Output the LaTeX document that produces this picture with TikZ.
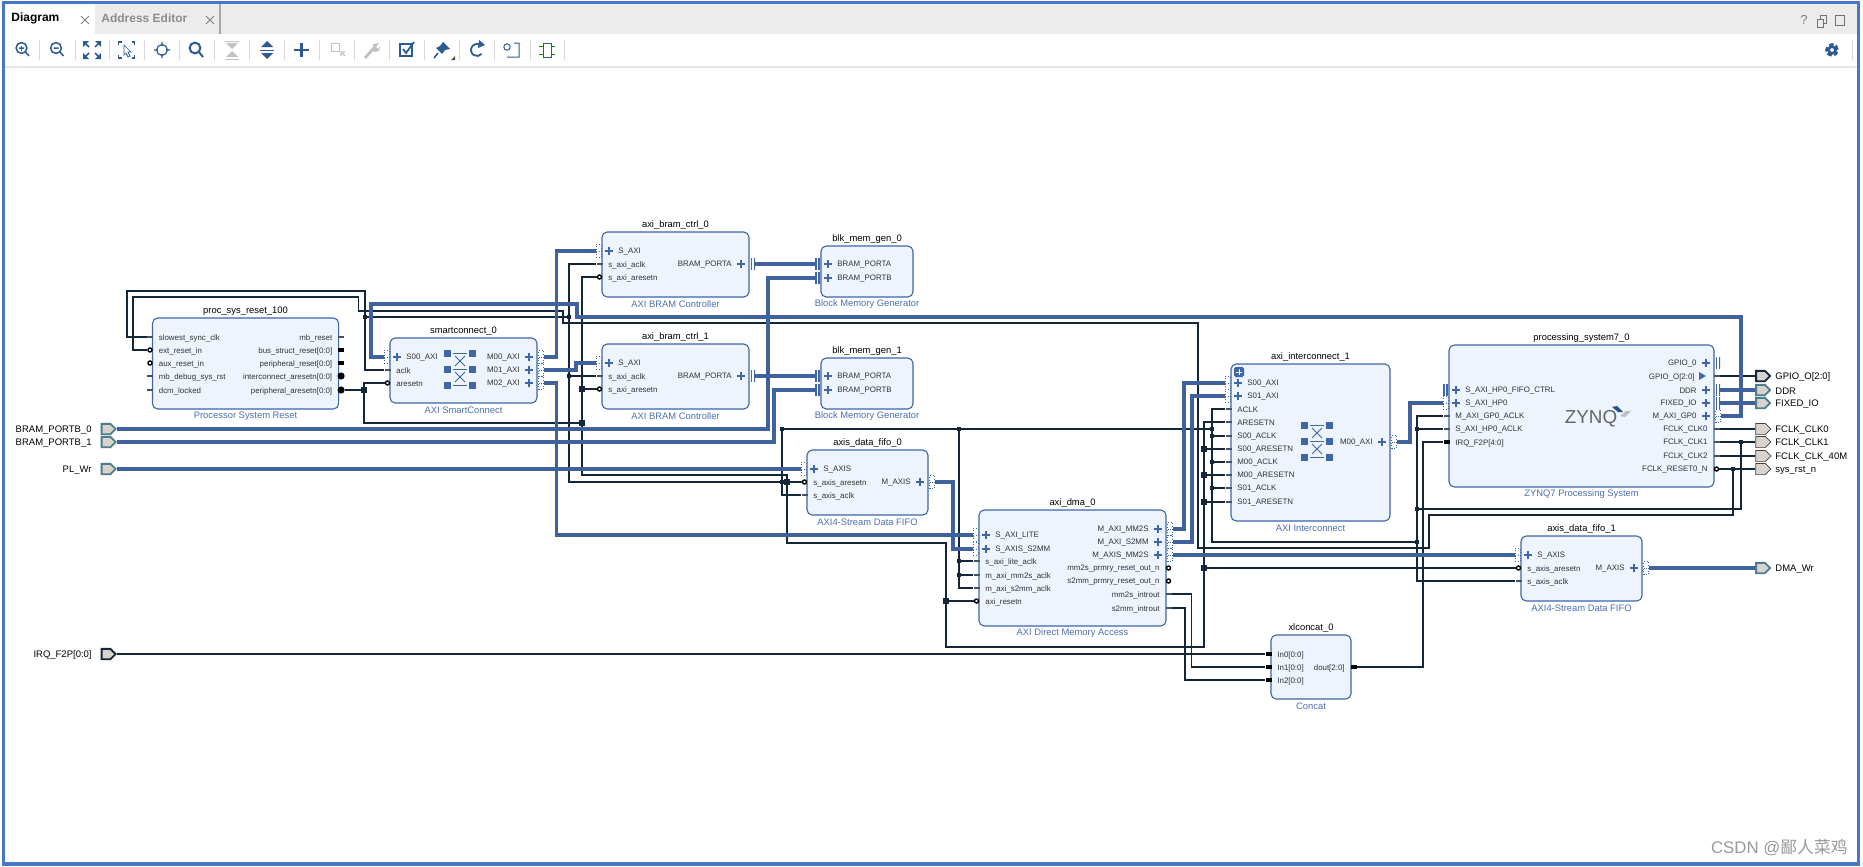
\documentclass[tikz,border=0pt]{standalone}
\usepackage{fontspec}
\setmainfont{Liberation Sans}
\newfontfamily\cjk{Noto Sans CJK SC}
\usetikzlibrary{shapes.symbols}

\definecolor{frameblue}{HTML}{4678C8}
\definecolor{tabgrey}{HTML}{ECECEC}
\definecolor{toolblue}{HTML}{2B5A94}
\definecolor{toolgrey}{HTML}{C2C2C2}
\definecolor{ipfill}{HTML}{EDF4FD}
\definecolor{ipline}{HTML}{3F66A8}
\definecolor{ipfoot}{HTML}{4C70B0}
\definecolor{busblue}{HTML}{3F629F}
\definecolor{netdark}{HTML}{14273A}
\definecolor{netgrey}{HTML}{85909A}
\definecolor{portfill}{HTML}{DAD3CD}
\definecolor{portteal}{HTML}{4A7E8C}

\tikzset{
	ipbox/.style={draw=ipline,fill=ipfill,line width=.55pt,rounded corners=2.6pt,inner sep=0pt,outer sep=0pt},
	iptitle/.style={inner sep=0pt,font=\fontsize{4.7}{5}\selectfont},
	ipfootl/.style={inner sep=0pt,text=ipfoot,font=\fontsize{4.7}{5}\selectfont},
	pinl/.style={anchor=west,inner sep=0pt,text=black!80,font=\fontsize{3.95}{4}\selectfont},
	pinr/.style={anchor=east,inner sep=0pt,text=black!80,font=\fontsize{3.95}{4}\selectfont},
	pthin/.style={fill=netdark!80,inner sep=0pt,minimum width=3pt,minimum height=.8pt},
	pbar/.style={fill=black,inner sep=0pt,minimum width=3pt,minimum height=2pt},
	plow/.style={circle,draw=black,fill=white,line width=.7pt,inner sep=0pt,minimum size=2pt},
	pdot/.style={circle,fill=black,inner sep=0pt,minimum size=3.6pt},
	ifdots/.style={draw=ipline,densely dotted,line width=.35pt,inner sep=0pt,minimum width=2.4pt,minimum height=6.5pt,
		path picture={\draw[ipline,densely dotted,line width=.35pt] (path picture bounding box.west) -- (path picture bounding box.east);}},
	ifbars/.style={inner sep=0pt,minimum width=2pt,minimum height=6pt,
		path picture={\draw[ipline,line width=1pt] (path picture bounding box.north west) -- (path picture bounding box.south west)
			(path picture bounding box.north east) -- (path picture bounding box.south east);}},
	ifbarsb/.style={inner sep=0pt,minimum width=2.5pt,minimum height=6pt,
		path picture={\draw[ipline,line width=1.8pt] (path picture bounding box.north west) -- (path picture bounding box.south west)
			(path picture bounding box.north east) -- (path picture bounding box.south east);}},
	plusmark/.style={draw=ipline,line width=1.05pt},
	busnet/.style={draw=busblue,line width=1.6pt},
	clknet/.style={draw=netdark,line width=.6pt},
	rstnet/.style={draw=netgrey,line width=1.4pt,postaction={draw=netdark,line width=.7pt}},
	jthin/.style={fill=netdark,inner sep=0pt,minimum size=1.7pt},
	jthick/.style={fill=netdark,inner sep=0pt,minimum size=2.7pt},
	extbus/.style={signal,signal to=east,draw=portteal,fill=portfill,line width=.95pt,inner sep=0pt,minimum width=7pt,minimum height=5.2pt},
	extnet/.style={signal,signal to=east,draw=netdark,fill=portfill,line width=.95pt,inner sep=0pt,minimum width=7pt,minimum height=5.2pt},
	extclk/.style={signal,signal to=east,draw=black!75,fill=portfill,line width=.35pt,inner sep=0pt,minimum width=7.5pt,minimum height=5.6pt},
	extl/.style={anchor=east,inner sep=0pt,font=\fontsize{4.75}{5}\selectfont},
	extr/.style={anchor=west,inner sep=0pt,font=\fontsize{4.75}{5}\selectfont},
	tooll/.style={draw=toolblue,line width=.75pt},
	xcross/.pic={
		\foreach \sx in {-12.5,12.5} \foreach \sy in {-16,0,16}
			\fill[ipline] (\sx-3.5,\sy-3.5) rectangle (\sx+3.5,\sy+3.5);
		\foreach \sy in {-16,0,16} \draw[ipline,line width=.45pt] (-7,\sy) -- (7,\sy);
		\draw[ipline,line width=.45pt] (-5,-13) -- (5,-3) (-5,-3) -- (5,-13) (-5,3) -- (5,13) (-5,13) -- (5,3);
	}
}

% pins of a block: name/y/text/kind
\newcommand{\pinsL}[2]{\foreach \nm/\yy/\txt/\kind in {#2}{
	\node[\kind] (\nm) at (#1-2.5,\yy) {};
	\node[pinl] (\nm t) at (#1+6,\yy+1) {\txt};}}
\newcommand{\pinsR}[2]{\foreach \nm/\yy/\txt/\kind in {#2}{
	\node[\kind] (\nm) at (#1+2.5,\yy) {};
	\node[pinr] (\nm t) at (#1-6,\yy+1) {\txt};}}
\newcommand{\busL}[2]{\foreach \nm/\yy/\txt/\kind in {#2}{
	\node[\kind] (\nm) at (#1-3.5,\yy) {};
	\draw[plusmark] (#1+3,\yy) -- (#1+11,\yy) (#1+7,\yy-4) -- (#1+7,\yy+4);
	\node[pinl] (\nm t) at (#1+16,\yy+1) {\txt};}}
\newcommand{\busR}[2]{\foreach \nm/\yy/\txt/\kind in {#2}{
	\node[\kind] (\nm) at (#1+4,\yy) {};
	\draw[plusmark] (#1-12,\yy) -- (#1-4,\yy) (#1-8,\yy-4) -- (#1-8,\yy+4);
	\node[pinr] (\nm t) at (#1-17,\yy+1) {\txt};}}

\begin{document}
\begin{tikzpicture}[x=.5pt,y=-.5pt]
	\useasboundingbox (0,0) rectangle (1863,867);
	\fill[white] (0,0) rectangle (1863,867);

	% Tabs
	\fill[tabgrey] (5,4) rectangle (1857,34);
	\fill[white] (5,4) rectangle (95,34);
	\draw[black!35,line width=1pt] (220,4) -- (220,34);
	\fill[black!10] (5,66) rectangle (1857,68);
	\node[inner sep=0pt,anchor=west,font=\bfseries\fontsize{6}{6}\selectfont] (tabdiag) at (11,18) {Diagram};
	\node[inner sep=0pt,anchor=west,text=black!45,font=\bfseries\fontsize{6}{6}\selectfont] (tabaddr) at (101,18) {Address Editor};
	\foreach \ix in {85,210}
		\draw[black!50,line width=.5pt] (\ix-4,16) -- (\ix+4,24) (\ix-4,24) -- (\ix+4,16);
	\node[inner sep=0pt,text=black!50,font=\fontsize{6.5}{7}\selectfont] (tabhelp) at (1804,20) {?};
	\draw[black!55,line width=.4pt] (1817,19) rectangle (1823,27) (1820,19) -- (1820,15) -- (1826,15) -- (1826,23) -- (1823,23);
	\draw[black!55,line width=.4pt] (1835,15) rectangle (1844,25);

	% Toolbar
	\foreach \sx in {39.5,75,109.5,144,179,214,249,284.5,319,354.5,389,424,459,494,530,564,1852}
		\draw[black!15,line width=.4pt] (\sx,40) -- (\sx,60);
	\foreach \ix in {21.5,56}
		\draw[tooll] (\ix,48) circle (2.7pt) (\ix+4,52) -- (\ix+7.5,56) (\ix-2.5,48) -- (\ix+2.5,48);
	\draw[tooll] (21.5,45.5) -- (21.5,50.5);
	\foreach \sx/\sy in {-1/-1,1/-1,-1/1,1/1}{
		\fill[toolblue] (92+\sx*9,50+\sy*9) -- (92+\sx*3,50+\sy*9) -- (92+\sx*9,50+\sy*3) -- cycle;
		\draw[tooll] (92+\sx*7,50+\sy*7) -- (92+\sx*3,50+\sy*3);
		\draw[tooll,line width=.6pt] (126.5+\sx*5,50+\sy*8) -- (126.5+\sx*8,50+\sy*8) -- (126.5+\sx*8,50+\sy*5);
	}
	\draw[toolblue,fill=white,line width=.35pt] (124,45) -- (131,52) -- (128,52) -- (130,56) -- (128,57) -- (126,53) -- (124,55) -- cycle;
	\draw[tooll,line width=.6pt] (162,50) circle (2.7pt) (162,42) -- (162,46) (162,54) -- (162,58) (154,50) -- (158,50) (166,50) -- (170,50);
	\draw[tooll,line width=1pt] (195,48) circle (2.7pt) (199,52) -- (203,57);
	\fill[toolgrey] (226,43) -- (238,43) -- (232,49) -- cycle (226,57) -- (238,57) -- (232,51) -- cycle;
	\draw[toolgrey,line width=.5pt] (225,41) -- (239,41) (225,59) -- (239,59);
	\fill[toolblue] (261,47) -- (273,47) -- (267,41) -- cycle (261,53) -- (273,53) -- (267,59) -- cycle;
	\draw[tooll,line width=.5pt] (260,50) -- (274,50);
	\draw[tooll,line width=1.3pt] (294,50) -- (309,50) (301.5,43) -- (301.5,57);
	\draw[toolgrey,line width=.4pt] (331,43) rectangle (339,51);
	\draw[toolgrey,line width=.6pt] (341,52) -- (345,56) (341,52) -- (345,52) (341,52) -- (341,56);
	\draw[toolgrey,line width=1.5pt] (365,58) -- (374,48);
	\fill[toolgrey] (373,44) -- (379,43) -- (376,47) -- (378,49) -- (380,46) -- (379,51) -- (374,52) -- cycle;
	\draw[tooll] (400,44) rectangle (412,56);
	\draw[tooll,line width=.9pt] (403,49) -- (406,53) -- (414,42);
	\fill[toolblue] (443,42) -- (450,49) -- (445,50) -- (442,54) -- (436,48) -- (440,46) -- cycle;
	\draw[tooll,line width=.8pt] (438,53) -- (434,58);
	\fill[black!70] (451,60) -- (455,60) -- (455,56) -- cycle;
	\draw[tooll,line width=.9pt] (480,44.8) arc (60:320:3pt);
	\fill[toolblue] (479,40) -- (485,45) -- (478,48) -- cycle;
	\draw[tooll,line width=.5pt] (507,47) circle (1.6pt) (507,57) -- (519,57) -- (519,43) -- (514,43);
	\draw[tooll,line width=.4pt] (543,43) rectangle (551,57);
	\draw[green!60!black,line width=.5pt] (539,46) -- (543,46) (539,54) -- (543,54) (551,46) -- (555,46) (551,54) -- (555,54);
	\draw[toolblue,line width=2pt,densely dotted] (1832,50) circle (2.4pt);
	\fill[toolblue,even odd rule] (1832,50) circle (2.4pt) (1832,50) circle (1pt);

	% Blocos
	\foreach \nm/\xa/\ya/\xb/\yb/\ttl/\ftr in {
		proc/152.5/318/338.6/409/proc\_sys\_reset\_100/Processor System Reset,
		sc/390/338/537/403/smartconnect\_0/AXI SmartConnect,
		bc0/602/232/749/297/axi\_bram\_ctrl\_0/AXI BRAM Controller,
		bc1/602/344/749/409/axi\_bram\_ctrl\_1/AXI BRAM Controller,
		bm0/821/246/913/297/blk\_mem\_gen\_0/Block Memory Generator,
		bm1/821/358/913/409/blk\_mem\_gen\_1/Block Memory Generator,
		ff0/807/450/928/515/axis\_data\_fifo\_0/AXI4-Stream Data FIFO,
		dma/979/510/1166/626/axi\_dma\_0/AXI Direct Memory Access,
		ic/1231/364/1390/521/axi\_interconnect\_1/AXI Interconnect,
		ps/1449/345/1714/487/processing\_system7\_0/ZYNQ7 Processing System,
		ff1/1521/536/1642/601/axis\_data\_fifo\_1/AXI4-Stream Data FIFO,
		xl/1271/635/1351/699/xlconcat\_0/Concat}{
		\node[ipbox,minimum width={(\xb-\xa)*.5pt},minimum height={(\yb-\ya)*.5pt}] (\nm) at ({(\xa+\xb)/2},{(\ya+\yb)/2}) {};
		\node[iptitle] (\nm t) at ({(\xa+\xb)/2},\ya-7) {\ttl};
		\node[ipfootl] (\nm f) at ({(\xa+\xb)/2},\yb+7) {\ftr};
	}

	% Pinos
	\pinsL{152.5}{rclk/337/slowest\_sync\_clk/pthin,rext/350/ext\_reset\_in/plow,raux/363/aux\_reset\_in/plow,
		rdbg/376/mb\_debug\_sys\_rst/pthin,rdcm/390/dcm\_locked/pthin}
	\pinsR{338.6}{rmb/337/mb\_reset/pthin,rbus/350/bus\_struct\_reset[0:0]/pbar,rper/363/peripheral\_reset[0:0]/pbar,
		ric/376/interconnect\_aresetn[0:0]/pdot,rpa/390/peripheral\_aresetn[0:0]/pdot}
	\busL{390}{scs/357/S00\_AXI/ifdots}
	\pinsL{390}{scclk/370/aclk/pthin,scrst/383/aresetn/plow}
	\busR{537}{scm0/357/M00\_AXI/ifdots,scm1/370/M01\_AXI/ifdots,scm2/383/M02\_AXI/ifdots}
	\busL{602}{bc0s/251/S\_AXI/ifdots}
	\pinsL{602}{bc0clk/264/s\_axi\_aclk/pthin,bc0rst/277/s\_axi\_aresetn/plow}
	\busR{749}{bc0a/264/BRAM\_PORTA/ifbars}
	\busL{602}{bc1s/363/S\_AXI/ifdots}
	\pinsL{602}{bc1clk/376/s\_axi\_aclk/pthin,bc1rst/389/s\_axi\_aresetn/plow}
	\busR{749}{bc1a/376/BRAM\_PORTA/ifbars}
	\busL{821}{bm0a/264/BRAM\_PORTA/ifbarsb,bm0b/278/BRAM\_PORTB/ifbarsb}
	\busL{821}{bm1a/376/BRAM\_PORTA/ifbarsb,bm1b/390/BRAM\_PORTB/ifbarsb}
	\busL{807}{ff0s/469/S\_AXIS/ifdots}
	\pinsL{807}{ff0rst/482/s\_axis\_aresetn/plow,ff0clk/495/s\_axis\_aclk/pthin}
	\busR{928}{ff0m/482/M\_AXIS/ifdots}
	\busL{979}{dmal/535/S\_AXI\_LITE/ifdots,dmas/549/S\_AXIS\_S2MM/ifdots}
	\pinsL{979}{dmac1/561/s\_axi\_lite\_aclk/pthin,dmac2/575/m\_axi\_mm2s\_aclk/pthin,dmac3/588/m\_axi\_s2mm\_aclk/pthin,dmarst/601/axi\_resetn/plow}
	\busR{1166}{dmamm/529/M\_AXI\_MM2S/ifdots,dmas2/542/M\_AXI\_S2MM/ifdots,dmaax/555/M\_AXIS\_MM2S/ifdots}
	\pinsR{1166}{dmap1/568/mm2s\_prmry\_reset\_out\_n/plow,dmap2/581/s2mm\_prmry\_reset\_out\_n/plow,
		dmai1/594/mm2s\_introut/pthin,dmai2/608/s2mm\_introut/pthin}
	\busL{1231}{ics0/383/S00\_AXI/ifdots,ics1/396/S01\_AXI/ifdots}
	\pinsL{1231}{icclk/409/ACLK/pthin,icrst/422/ARESETN/pthin,icc0/436/S00\_ACLK/pthin,icr0/449/S00\_ARESETN/pthin,
		icc1/462/M00\_ACLK/pthin,icr1/475/M00\_ARESETN/pthin,icc2/488/S01\_ACLK/pthin,icr2/502/S01\_ARESETN/pthin}
	\busR{1390}{icm0/442/M00\_AXI/ifdots}
	\busL{1449}{psfifo/390/S\_AXI\_HP0\_FIFO\_CTRL/ifbarsb,pshp/403/S\_AXI\_HP0/ifdots}
	\pinsL{1449}{psgpc/416/M\_AXI\_GP0\_ACLK/pthin,pshpc/429/S\_AXI\_HP0\_ACLK/pthin,psirq/442/IRQ\_F2P[4:0]/pbar}
	\busR{1714}{psg0/363/GPIO\_0/ifbars,psddr/390/DDR/ifbars,psfix/403/FIXED\_IO/ifbars,psgp/416/M\_AXI\_GP0/ifdots}
	\node[pthin,minimum height=1.2pt] (psgo) at (1716.5,376) {};
	\node[pinr] (psgot) at (1695,377) {GPIO\_O[2:0]};
	\fill[ipline] (1699,372) -- (1706,376) -- (1699,380) -- cycle;
	\pinsR{1714}{psf0/429/FCLK\_CLK0/pthin,psf1/442/FCLK\_CLK1/pthin,psf2/456/FCLK\_CLK2/pthin,psrst/469/FCLK\_RESET0\_N/plow}
	\busL{1521}{ff1s/555/S\_AXIS/ifdots}
	\pinsL{1521}{ff1rst/568/s\_axis\_aresetn/plow,ff1clk/581/s\_axis\_aclk/pthin}
	\busR{1642}{ff1m/568/M\_AXIS/ifdots}
	\pinsL{1271}{xl0/654/In0[0:0]/pbar,xl1/667/In1[0:0]/pbar,xl2/680/In2[0:0]/pbar}
	\pinsR{1351}{xlo/667/dout[2:0]/pbar}

	% Simbolos
	\pic at (460,369) {xcross};
	\pic at (1317,441) {xcross};
	\fill[ipline,rounded corners=.8pt] (1234,367) rectangle (1244,377);
	\draw[white,line width=.5pt] (1236,372) -- (1242,372) (1239,369) -- (1239,375);
	\node[inner sep=0pt,text=black!60,font=\fontsize{9.4}{10}\selectfont] (zynq) at (1591,419) {ZYNQ};
	\fill[toolblue!90!black] (1612,407) -- (1617,406) -- (1623,412) -- (1618,412) -- cycle;
	\fill[black!25] (1620,416) -- (1626,411) -- (1631,411) -- (1625,417) -- cycle;

	% Portas externas
	\foreach \nm/\yy/\txt/\kind in {prb0/429/BRAM\_PORTB\_0/extbus,prb1/442/BRAM\_PORTB\_1/extbus,
		pwr/469/PL\_Wr/extbus,pirq/654/IRQ\_F2P[0:0]/extnet}{
		\node[\kind] (\nm) at (106,\yy) {};
		\node[extl] (\nm t) at (92,\yy+1) {\txt};
	}
	\foreach \nm/\yy/\txt/\kind in {pgo/376/GPIO\_O[2:0]/extnet,pddr/390/DDR/extbus,pfix/403/FIXED\_IO/extbus,
		pf0/429/FCLK\_CLK0/extclk,pf1/442/FCLK\_CLK1/extclk,pf2/456/FCLK\_CLK\_40M/extclk,
		prst/469/sys\_rst\_n/extclk,pdma/568/DMA\_Wr/extbus}{
		\node[\kind] (\nm) at (1760.5,\yy) {};
		\node[extr] (\nm t) at (1775,\yy+1) {\txt};
	}

	% Juncoes
	\foreach \nm/\xx/\yy in {ja/365/317,jb/569/317,jc/569/376,jd/782/482,je/782/429,jf/959/429,jg/959/561,jh/959/575,
		ji/1212/429,jj/1212/436,jk/1212/462,jl/1212/488,jm/1417/429,jn/1417/509,jo/1417/542,jp/1741/442,jq/1733/469}
		\node[jthin] (\nm) at (\xx,\yy) {};
	\foreach \nm/\xx/\yy in {ka/364/390,kb/582/423,kc/582/389,kd/787/482,ke/946/601,kf/1204/449,kg/1204/475,kh/1204/502,ki/1204/568}
		\node[jthick] (\nm) at (\xx,\yy) {};

	% Clock
	\draw[clknet] (rclk.west) -- (127,337) -- (127,291) -- (365,291) -- (ja) -- (365,370) -- (scclk.west);
	\draw[clknet] (ja) -- (jb);
	\draw[clknet] (bc0clk.west) -- (569,264) -- (jb) -- (jc) -- (569,482) -- (jd);
	\draw[clknet] (jc) -- (bc1clk.west);
	\draw[clknet] (je) -- (jd) -- (782,495) -- (ff0clk.west);
	\draw[clknet] (je) -- (jf) -- (ji);
	\draw[clknet] (jf) -- (jg) -- (jh) -- (959,588) -- (dmac3.west);
	\draw[clknet] (jg) -- (dmac1.west);
	\draw[clknet] (jh) -- (dmac2.west);
	\draw[clknet] (icclk.west) -- (1212,409) -- (ji) -- (jj) -- (jk) -- (jl) -- (1212,542) -- (jo);
	\draw[clknet] (jj) -- (icc0.west);
	\draw[clknet] (jk) -- (icc1.west);
	\draw[clknet] (jl) -- (icc2.west);
	\draw[clknet] (psgpc.west) -- (1417,416) -- (jm) -- (jn) -- (jo) -- (1417,581) -- (ff1clk.west);
	\draw[clknet] (jm) -- (pshpc.west);
	\draw[clknet] (jn) -- (1741,509) -- (jp);
	\draw[clknet] (psf1.east) -- (jp) -- (pf1.west);
	\draw[clknet] (psf0.east) -- (pf0.west);
	\draw[clknet] (psf2.east) -- (pf2.west);

	% Reset
	\draw[clknet] (psrst.east) -- (jq) -- (prst.west);
	\draw[clknet] (jq) -- (1733,515) -- (1429,515) -- (1429,548) -- (1198,548) -- (1198,323) -- (563,323) -- (563,311)
		-- (358.6,311) -- (358.6,297) -- (133,297) -- (133,350) -- (rext.west);
	\draw[rstnet] (rpa.east) -- (ka);
	\draw[rstnet] (scrst.west) -- (364,383) -- (ka) -- (364,423) -- (kb);
	\draw[rstnet] (bc0rst.west) -- (582,277) -- (kc) -- (kb) -- (582,475) -- (787,475) -- (kd) -- (787,543) -- (946,543)
		-- (ke) -- (946,647) -- (1204,647) -- (ki) -- (kh) -- (kg) -- (kf) -- (1204,422) -- (icrst.west);
	\draw[rstnet] (kc) -- (bc1rst.west);
	\draw[rstnet] (kd) -- (ff0rst.west);
	\draw[rstnet] (ke) -- (dmarst.west);
	\draw[rstnet] (kf) -- (icr0.west);
	\draw[rstnet] (kg) -- (icr1.west);
	\draw[rstnet] (kh) -- (icr2.west);
	\draw[rstnet] (ki) -- (ff1rst.west);

	% Interrupcoes
	\draw[rstnet] (pirq.east) -- (xl0.west);
	\draw[rstnet] (xlo.east) -- (1423,667) -- (1423,442) -- (psirq.west);
	\draw[clknet] (dmai1.east) -- (1191.5,594) -- (1191.5,667) -- (xl1.west);
	\draw[clknet] (dmai2.east) -- (1185,608) -- (1185,680) -- (xl2.west);
	\draw[rstnet] (psgo.east) -- (pgo.west);

	% Barramentos
	\draw[busnet] (bc0a.east) -- (bm0a.west);
	\draw[busnet] (bc1a.east) -- (bm1a.west);
	\draw[busnet] (bm0b.west) -- (768,278) -- (768,429) -- (prb0.east);
	\draw[busnet] (bm1b.west) -- (774,390) -- (774,442) -- (prb1.east);
	\draw[busnet] (scm0.east) -- (556.5,357) -- (556.5,251) -- (bc0s.west);
	\draw[busnet] (scm1.east) -- (576,370) -- (576,363) -- (bc1s.west);
	\draw[busnet] (scm2.east) -- (556.5,383) -- (556.5,535) -- (dmal.west);
	\draw[busnet] (pwr.east) -- (ff0s.west);
	\draw[busnet] (ff0m.east) -- (953,482) -- (953,549) -- (dmas.west);
	\draw[busnet] (dmamm.east) -- (1184,529) -- (1184,383) -- (ics0.west);
	\draw[busnet] (dmas2.east) -- (1192,542) -- (1192,396) -- (ics1.west);
	\draw[busnet] (dmaax.east) -- (ff1s.west);
	\draw[busnet] (icm0.east) -- (1410,442) -- (1410,403) -- (pshp.west);
	\draw[busnet] (ff1m.east) -- (pdma.west);
	\draw[busnet] (psddr.east) -- (pddr.west);
	\draw[busnet] (psfix.east) -- (pfix.west);
	\draw[busnet] (psgp.east) -- (1741,416) -- (1741,317) -- (577,317) -- (577,304) -- (371,304) -- (371,357) -- (scs.west);

	% Moldura e marca
	\draw[frameblue,line width=1.6pt] (3.5,2.5) rectangle (1858.5,864);
	\node[inner sep=0pt,anchor=east,text=black!40,font=\fontsize{8.4}{9}\selectfont] (mark) at (1848,848) {CSDN @{\cjk 鄙人菜鸡}};
\end{tikzpicture}
\end{document}
